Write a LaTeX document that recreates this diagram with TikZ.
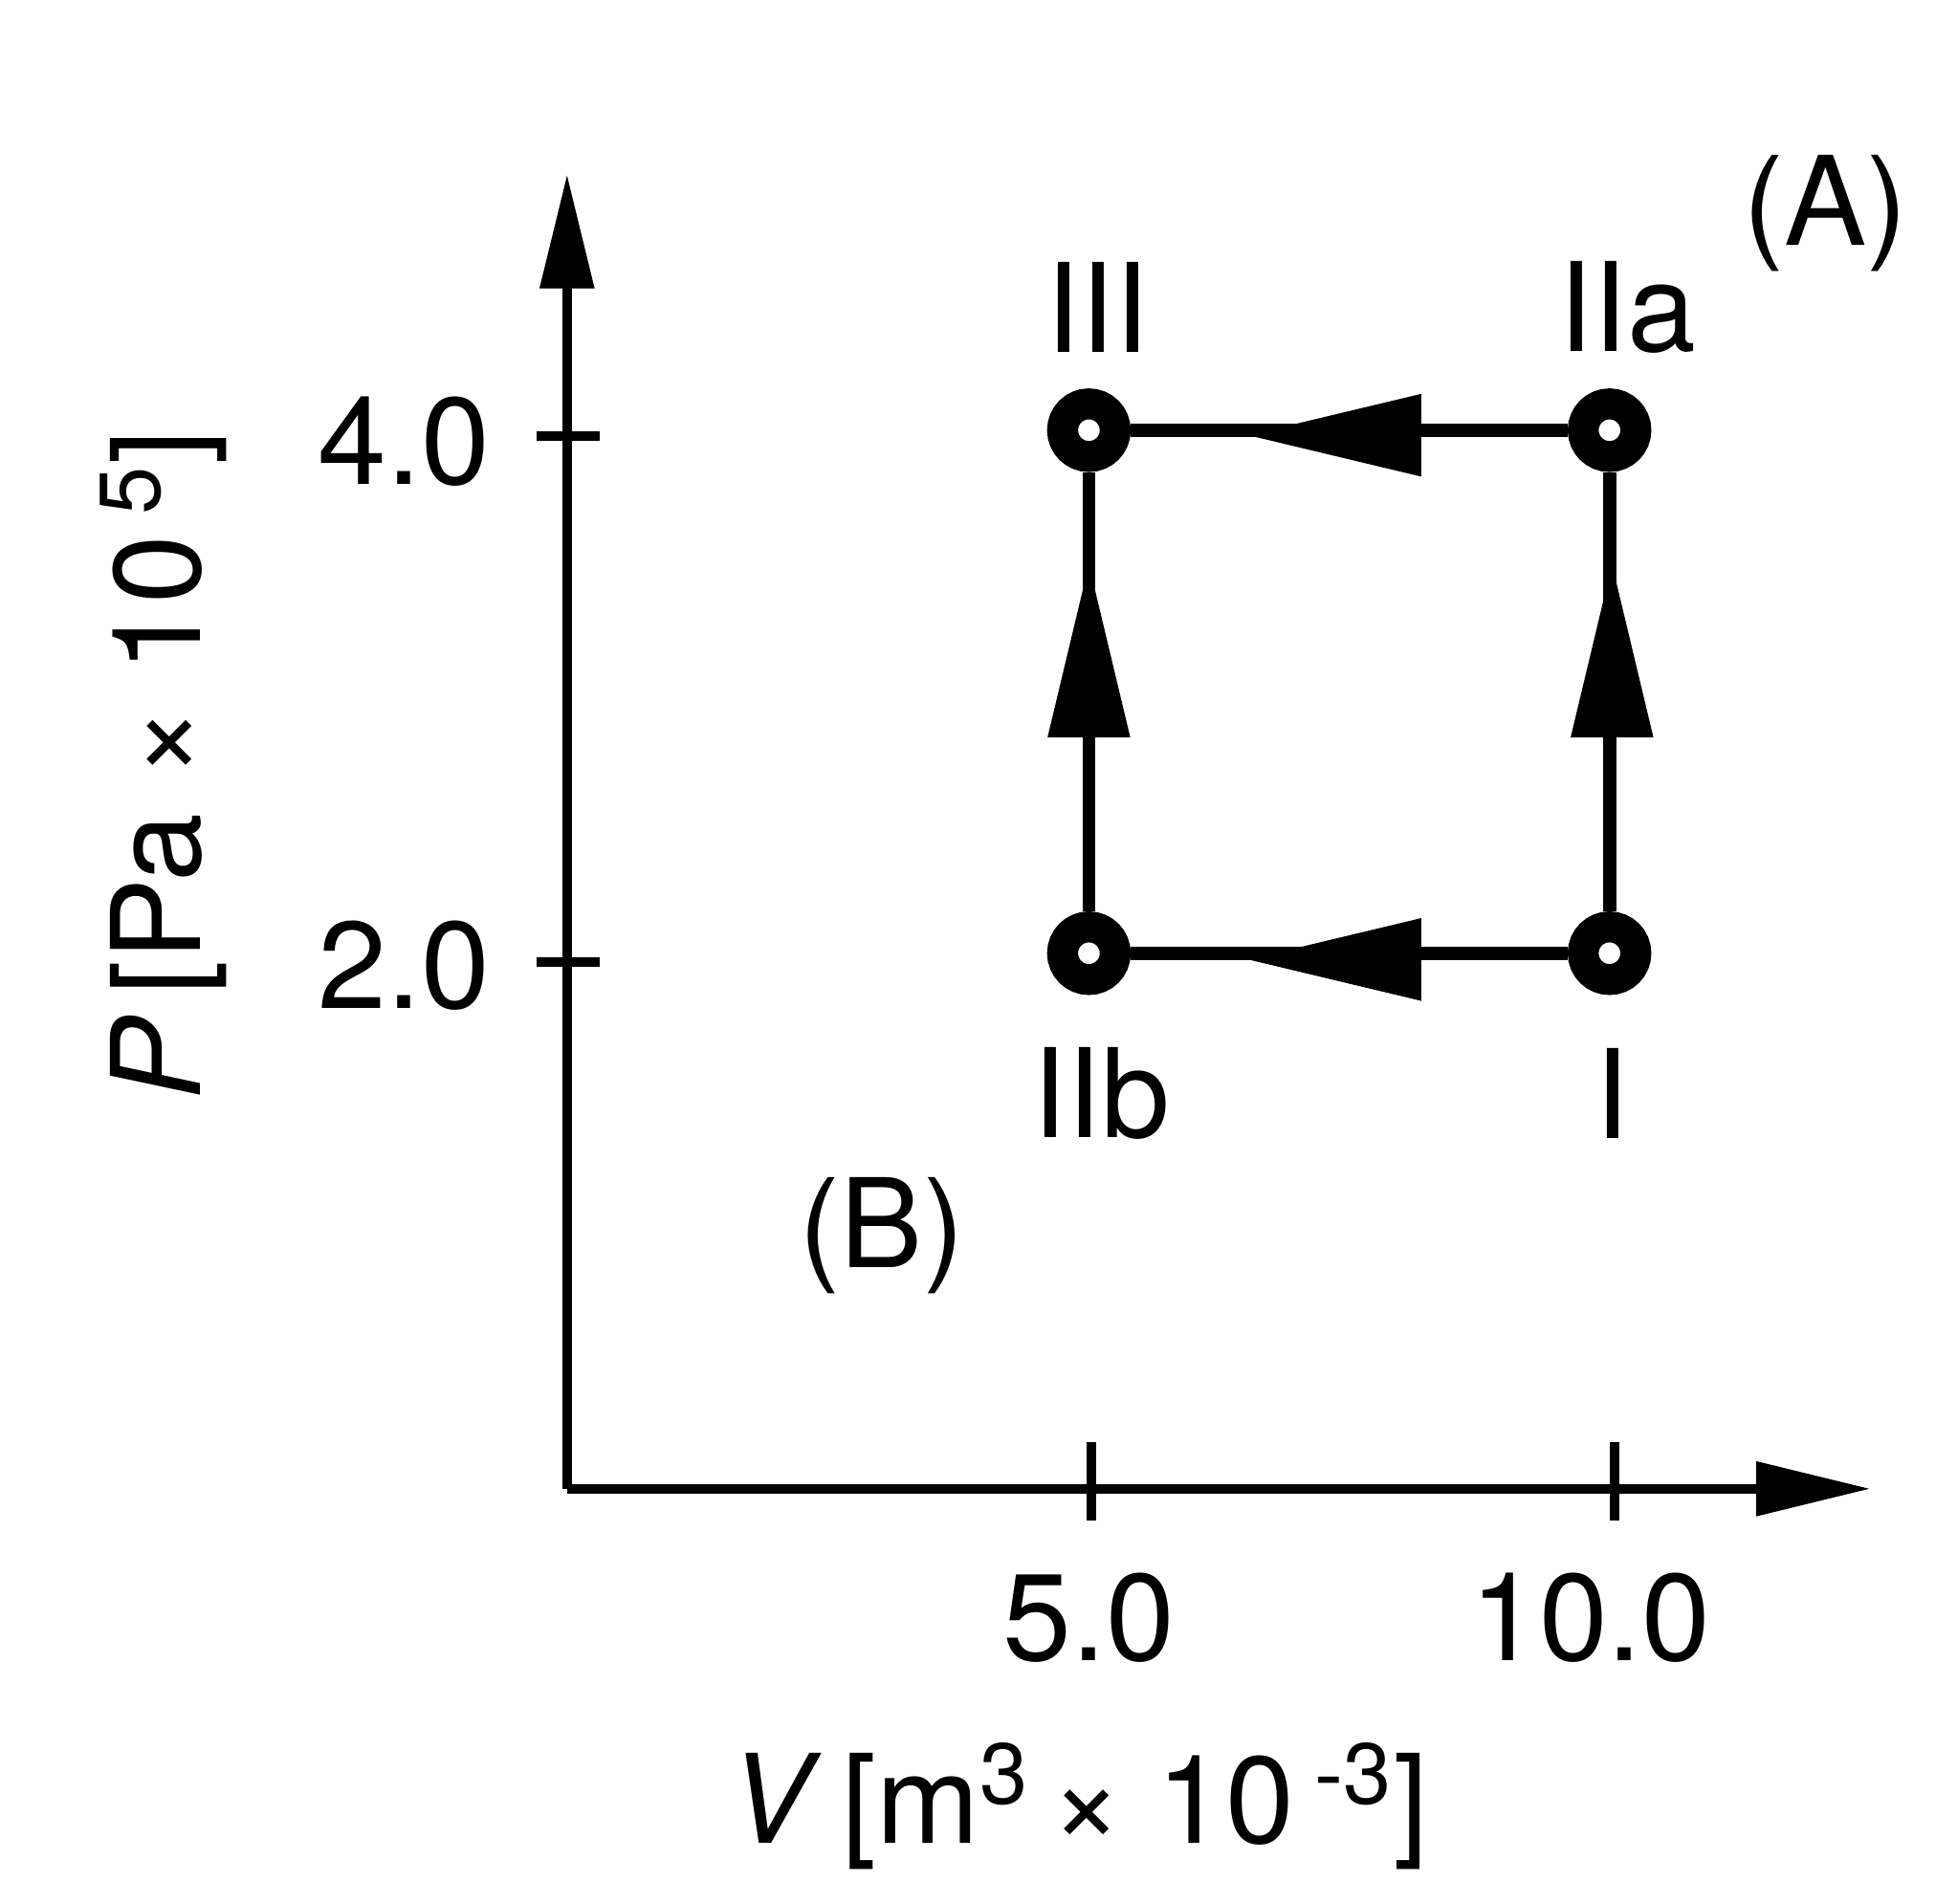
\documentclass[tikz,border=0pt]{standalone}
\usepackage{fontspec}
\setmainfont{TeX Gyre Heros}
\usetikzlibrary{arrows.meta}
\begin{document}
\begin{tikzpicture}[x=0.01cm,y=-0.01cm,
  axis/.style={line width=2.2pt},
  path/.style={line width=3pt},
  st/.style={circle,draw,line width=7pt,minimum size=0.42cm,inner sep=0pt,fill=white},
  lbl/.style={font=\fontsize{28}{32}\selectfont,inner sep=0pt},
  tri/.style={fill=black}]
\useasboundingbox (0,0) rectangle (1560,1518);
% axes
\coordinate (O) at (452,1187);
\coordinate (Ytip) at (452,140);
\coordinate (Xtip) at (1490,1187);
\draw[axis] (O) -- (452,225);
\fill (Ytip) -- (430,230) -- (474,230) -- cycle;
\draw[axis] (O) -- (1400,1187);
\fill (Xtip) -- (1400,1165) -- (1400,1209) -- cycle;
\draw[axis] (428,348) -- (478,348);
\draw[axis] (428,767) -- (478,767);
\draw[axis] (870,1150) -- (870,1212);
\draw[axis] (1287,1150) -- (1287,1212);
% states
\node[st] (III) at (868,343) {};
\node[st] (IIa) at (1283,343) {};
\node[st] (IIb) at (868,760) {};
\node[st] (I) at (1283,760) {};
\begin{scope}[on background layer/.try]
\end{scope}
\draw[path] (IIa) -- (III);
\draw[path] (I) -- (IIb);
\draw[path] (IIb) -- (III);
\draw[path] (I) -- (IIa);
\fill[tri] (995,347) -- (1133,314) -- (1133,380) -- cycle;
\fill[tri] (995,765) -- (1133,732) -- (1133,798) -- cycle;
\fill[tri] (868,450) -- (835,588) -- (901,588) -- cycle;
\fill[tri] (1285,450) -- (1252,588) -- (1318,588) -- cycle;
% labels
\node[lbl] (lIII) at (875,245) {III};
\node[lbl] (lIIa) at (1297,245) {IIa};
\node[lbl] (lIIb) at (878,872) {IIb};
\node[lbl] (lI) at (1285,872) {I};
\node[lbl] (lA) at (1455,170) {(A)};
\node[lbl] (lB) at (703,985) {(B)};
\node[lbl] (t4) at (322,352) {4.0};
\node[lbl] (t2) at (322,770) {2.0};
\node[lbl] (t5) at (868,1290) {5.0};
\node[lbl] (t10) at (1268,1290) {10.0};
\node[lbl] (xl) at (860,1440) {\textit{V}\,[m\textsuperscript{3}\,× 10\,\textsuperscript{-3}]};
\node[lbl,rotate=90] (yl) at (130,610) {\textit{P}\,[Pa × 10\,\textsuperscript{5}]};
\end{tikzpicture}
\end{document}
